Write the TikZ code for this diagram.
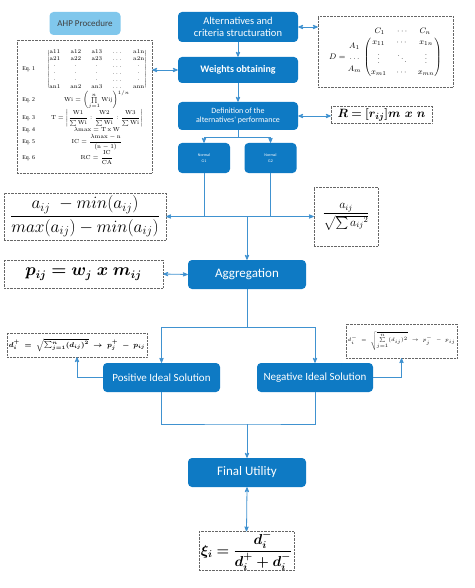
\documentclass[tikz,border=0pt]{standalone}
\usepackage{amsmath}
\usepackage{bm}
\usepackage{fontspec}
\usepackage{tikz}
\usetikzlibrary{positioning}
\usetikzlibrary{calc}
\usetikzlibrary{arrows}
\newfontfamily\calibri{Carlito}
\newfontfamily\timesf{Liberation Serif}
\definecolor{boxblue}{RGB}{14,122,196}
\definecolor{lightblue}{RGB}{128,199,236}
\definecolor{lineblue}{RGB}{64,146,208}
\tikzset{
b/.style={
  rectangle,
  rounded corners=4pt,
  inner sep=1pt,
  align=center,
  fill=boxblue,
  text=white,
  minimum width=118pt,
  minimum height=29pt,
  font=\calibri\fontsize{11}{12}\selectfont
  },
f/.style={
  rectangle,
  inner sep=0pt,
  align=center,
  draw=black!60,
  densely dotted,
  text=black,
  fill=white
  },
l/.style={
  draw=lineblue,
  line width=0.8pt
  }
}

\begin{document}
\begin{tikzpicture}[>=stealth',x=1pt,y=-1pt]
            \useasboundingbox (0,0) rectangle (474,588);
            % main chain
            \node[b,minimum width=120pt,minimum height=30pt,font=\calibri\fontsize{10.5}{11.5}\selectfont] (alt) at (238,27) {Alternatives and\\criteria structuration};
            \node[b,minimum width=120pt,minimum height=26pt,font=\calibri\bfseries\fontsize{10}{11}\selectfont] (wts) at (238,70) {Weights obtaining};
            \node[b,minimum width=120pt,minimum height=28pt,font=\calibri\fontsize{8}{9.5}\selectfont] (def) at (238,116) {Definition of the\\alternatives' performance};
            \node[b,minimum width=52pt,minimum height=30pt,font=\calibri\fontsize{4}{6}\selectfont] (g1) at (204,158) {Normal\\G1};
            \node[b,minimum width=52pt,minimum height=30pt,font=\calibri\fontsize{4}{6}\selectfont] (g2) at (270.5,158) {Normal\\G2};
            \node[b,font=\calibri\fontsize{13}{14}\selectfont] (agg) at (247,274.5) {Aggregation};
            \node[b,minimum width=117pt] (pos) at (161.5,377.5) {Positive Ideal Solution};
            \node[b,minimum width=116pt] (neg) at (315,377.5) {Negative Ideal Solution};
            \node[b,font=\calibri\fontsize{13}{14}\selectfont] (fin) at (247,472.5) {Final Utility};
            % AHP side
            \node[rectangle,rounded corners=4pt,fill=lightblue,text=black!75,minimum width=71pt,minimum height=23pt,font=\calibri\fontsize{9}{10}\selectfont] (ahp) at (85,23.5) {AHP Procedure};
            \node[f,minimum width=135pt,minimum height=133pt] (ahpbox) at (84.5,106.5) {\fontsize{5.8}{7}\selectfont\timesf
              \begin{tabular}{@{}l@{\hspace{12pt}}c@{}}
              Eq. 1 & $\left|\begin{matrix}\mathrm{a11}&\mathrm{a12}&\mathrm{a13}&\dots&\mathrm{a1n}\\ \mathrm{a21}&\mathrm{a22}&\mathrm{a23}&\dots&\mathrm{a2n}\\ \cdot&\cdot&\cdot&\dots&\cdot\\ \cdot&\cdot&\cdot&\dots&\cdot\\ \cdot&\cdot&\cdot&\dots&\cdot\\ \mathrm{an1}&\mathrm{an2}&\mathrm{an3}&\dots&\mathrm{ann}\end{matrix}\right|$\\[3pt]
              Eq. 2 & $\mathrm{Wi}=\left(\prod\limits_{j=1}^{n}\mathrm{Wij}\right)^{1/n}$\\[1pt]
              Eq. 3 & $\mathrm{T}=\left|\dfrac{\mathrm{W1}}{\sum\mathrm{Wi}}:\dfrac{\mathrm{W2}}{\sum\mathrm{Wi}}:\dfrac{\mathrm{W3}}{\sum\mathrm{Wi}}\right|$\\[1pt]
              Eq. 4 & $\lambda\mathrm{max}=\mathrm{T\ x\ W}$\\[1pt]
              Eq. 5 & $\mathrm{IC}=\dfrac{\lambda\mathrm{max}-\mathrm{n}}{(\mathrm{n}-1)}$\\[1pt]
              Eq. 6 & $\mathrm{RC}=\dfrac{\mathrm{IC}}{\mathrm{CA}}$
              \end{tabular}};
            % formula boxes
            \node[f,minimum width=135pt,minimum height=71pt] (dbox) at (385.5,51.5) {\footnotesize\renewcommand{\arraystretch}{1.2}%
              $\begin{array}{@{}r@{\;}c@{}}
               & \begin{matrix}C_1 & \;\cdots\; & C_n\end{matrix}\\
              D=\begin{matrix}A_1\\ \dots\\ A_m\end{matrix} & \begin{pmatrix}x_{11}&\cdots&x_{1n}\\ \vdots&\ddots&\vdots\\ x_{m1}&\cdots&x_{mn}\end{pmatrix}
              \end{array}$};
            \node[f,minimum width=101pt,minimum height=17pt] (rbox) at (381.5,114.5) {\fontsize{13}{14}\selectfont$\bm{R=[r_{ij}]m\ x\ n}$};
            \node[f,minimum width=162pt,minimum height=47pt] (norm1) at (85,216.5) {\fontsize{16.5}{18}\selectfont$\dfrac{a_{ij}\ -min(a_{ij})}{max(a_{ij})-min(a_{ij})}$};
            \node[f,minimum width=64pt,minimum height=59pt] (norm2) at (346,216.5) {\large$\dfrac{a_{ij}}{\sqrt{\sum a_{ij}{}^{2}}}$};
            \node[f,minimum width=159pt,minimum height=28pt] (pbox) at (83.5,274) {\fontsize{16}{18}\selectfont$\bm{p_{ij}=w_j\ x\ m_{ij}}$};
            \node[f,minimum width=140pt,minimum height=24pt] (dplus) at (77,345) {\scriptsize$\bm{d_i^{+}\;=\;\sqrt{\textstyle\sum_{j=1}^{n}(d_{ij})^2}\;\rightarrow\;p_j^{+}\;-\;p_{ij}}$};
            \node[f,minimum width=111pt,minimum height=34pt] (dminus) at (401.5,341) {\tiny$d_i^{-}\;=\;\sqrt{\sum\limits_{j=1}^{n}(d_{ij})^2}\;\rightarrow\;p_j^{-}\;-\;p_{ij}$};
            \node[f,minimum width=95pt,minimum height=38pt] (xibox) at (246.5,551) {\Large$\bm{\xi_i=\dfrac{d_i^{-}}{d_i^{+}+d_i^{-}}}$};
            % connectors
            \coordinate (s1) at (238,137);
            \coordinate (s2) at (247,216.5);
            \coordinate (s3) at (247,327);
            \coordinate (s4) at (247,424);
            \draw[l,->] (alt) -- (wts);
            \draw[l,->] (wts) -- (def);
            \draw[l] (def.south) -- (s1);
            \draw[l,->] (s1) -| (g1.north);
            \draw[l,->] (s1) -| (g2.north);
            \draw[l,<->] (ahpbox.east |- wts.west) -- (wts.west);
            \draw[l,<->] (alt.east) -- (dbox.west |- alt.east);
            \draw[l,<->] (def.east) -- (rbox.west |- def.east);
            \draw[l] (g1.south) -- (g1.south |- norm1.east);
            \draw[l] (g2.south) -- (g2.south |- norm1.east);
            \draw[l,<->] (norm1.east) -- (norm2.west);
            \draw[l,->] (s2) -- (agg.north);
            \draw[l,<->] (pbox.east) -- (agg.west);
            \draw[l] (agg.south) -- (s3);
            \draw[l,->] (s3) -| (pos.north);
            \draw[l,->] (s3) -| (neg.north);
            \draw[l,->] (pos.west) -| (dplus.south);
            \draw[l,->] (neg.east) -| (dminus.south);
            \draw[l] (pos.south) |- (s4) -| (neg.south);
            \draw[l,->] (s4) -- (fin.north);
            \draw[l,<->] (fin.south) -- (xibox.north);
\end{tikzpicture}
\end{document}
